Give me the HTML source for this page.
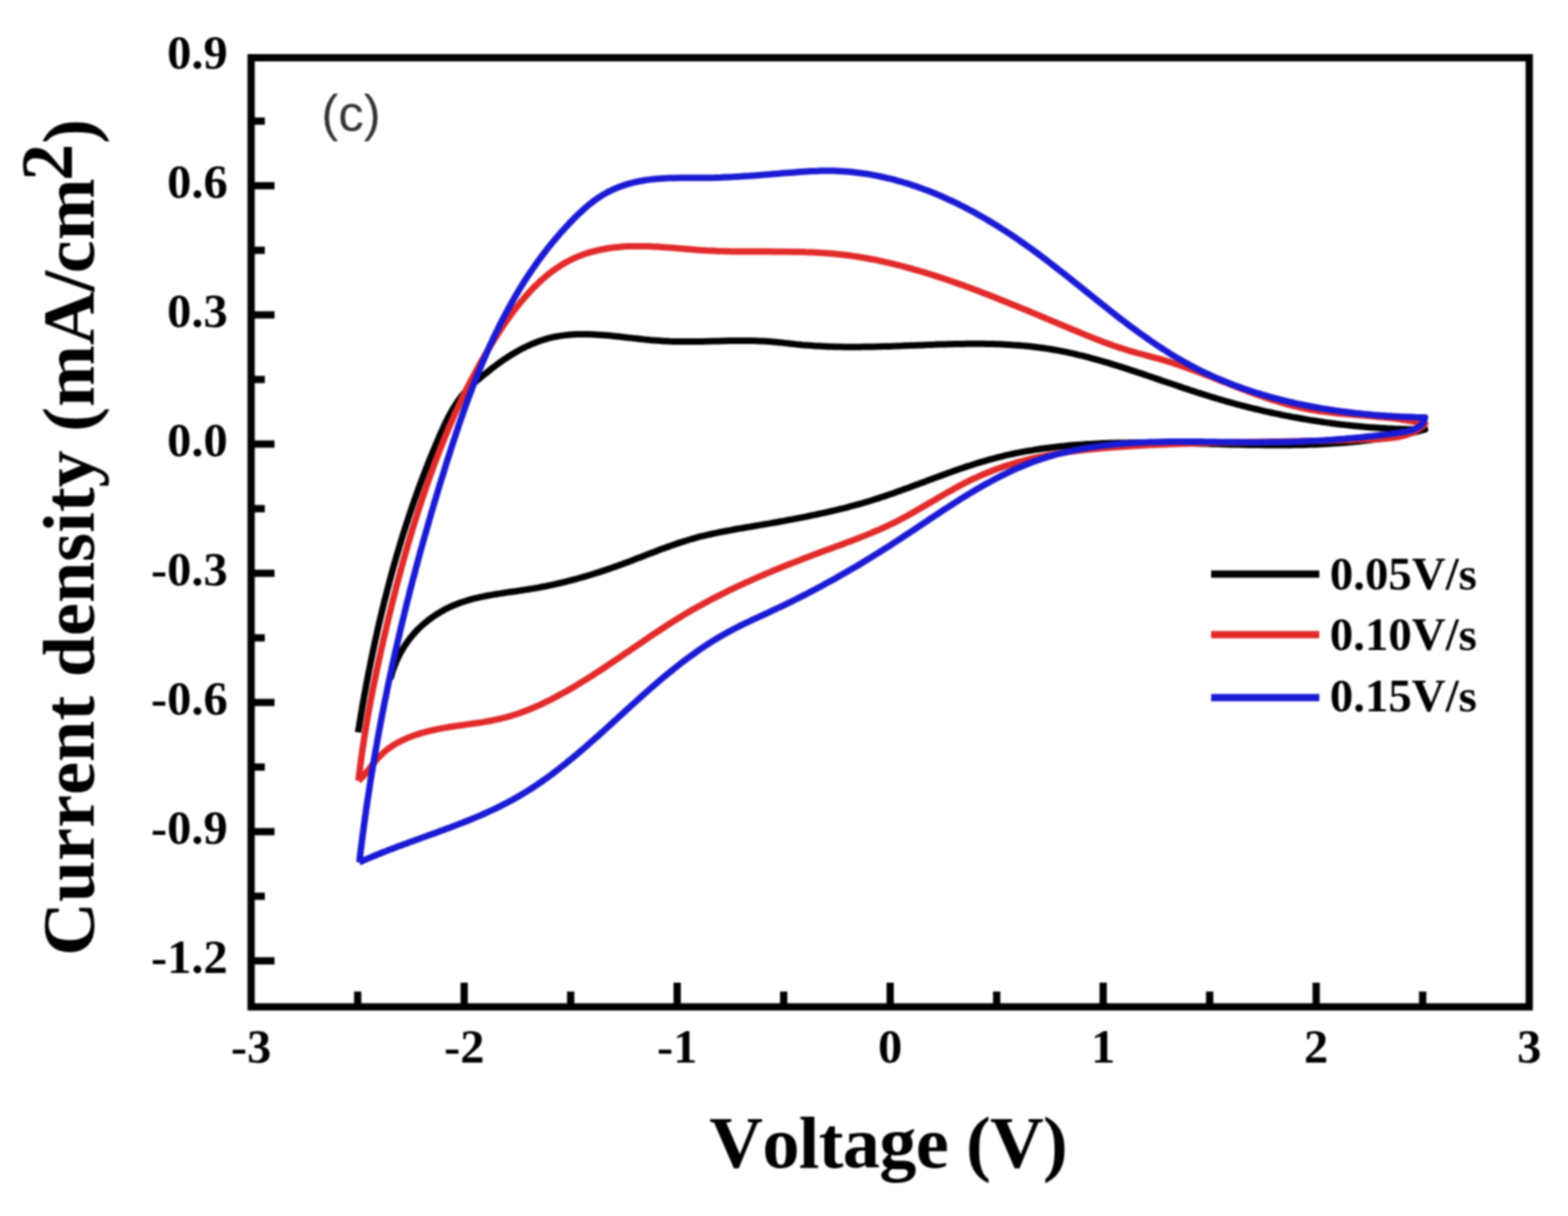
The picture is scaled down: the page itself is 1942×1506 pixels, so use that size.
<!DOCTYPE html>
<html><head><meta charset="utf-8"><title>CV curves</title>
<style>
html,body{margin:0;padding:0;background:#fff;width:1942px;height:1506px;overflow:hidden}
svg{display:block;filter:blur(1.2px)}
text{font-kerning:none}
.serif{font-family:"Liberation Serif","Times New Roman",serif;font-weight:bold;fill:#000}
</style></head><body>
<svg width="1942" height="1506" viewBox="0 0 1942 1506">
<rect x="0" y="0" width="1942" height="1506" fill="#fff"/>
<g fill="none" stroke-width="8" stroke-linejoin="round" stroke-linecap="butt">
<path d="M443.5 907.0 L444.1 903.0 L444.8 899.1 L445.4 895.1 L446.1 891.2 L446.7 887.2 L447.4 883.3 L448.1 879.4 L448.7 875.4 L449.4 871.5 L450.1 867.5 L450.8 863.6 L451.5 859.6 L452.3 855.7 L453.0 851.8 L453.7 847.8 L454.5 843.9 L455.2 840.0 L456.0 836.0 L456.7 832.1 L457.5 828.2 L458.3 824.3 L459.1 820.3 L459.9 816.4 L460.7 812.5 L461.5 808.6 L462.3 804.6 L463.2 800.7 L464.0 796.8 L464.8 792.9 L465.7 789.0 L466.6 785.1 L467.4 781.2 L468.3 777.3 L469.2 773.4 L470.1 769.5 L471.0 765.6 L472.0 761.7 L472.9 757.8 L473.8 753.9 L474.8 750.0 L475.7 746.1 L476.7 742.2 L477.7 738.4 L478.7 734.5 L479.7 730.6 L480.7 726.7 L481.7 722.9 L482.7 719.0 L483.8 715.1 L484.8 711.3 L485.9 707.4 L486.9 703.5 L488.0 699.7 L489.1 695.8 L490.2 692.0 L491.3 688.1 L492.4 684.3 L493.6 680.5 L494.7 676.6 L495.9 672.8 L497.0 669.0 L498.2 665.1 L499.4 661.3 L500.6 657.5 L501.8 653.7 L503.0 649.9 L504.3 646.1 L505.5 642.3 L506.8 638.5 L508.0 634.7 L509.3 630.9 L510.6 627.1 L511.9 623.3 L513.2 619.5 L514.6 615.7 L515.9 612.0 L517.3 608.2 L518.6 604.4 L520.0 600.7 L521.4 596.9 L522.8 593.2 L524.2 589.4 L525.7 585.7 L527.1 582.0 L528.6 578.2 L530.0 574.5 L531.5 570.8 L533.0 567.1 L534.5 563.4 L536.0 559.7 L537.6 556.0 L539.1 552.3 L540.7 548.6 L542.3 544.9 L543.8 541.2 L545.4 537.6 L547.1 533.9 L548.7 530.3 L550.4 526.6 L552.1 523.0 L553.9 519.4 L555.7 515.9 L557.6 512.3 L559.5 508.8 L561.6 505.4 L563.7 502.0 L565.9 498.6 L568.1 495.3 L570.5 492.1 L573.0 489.0 L575.6 485.9 L578.3 482.9 L581.1 480.1 L583.9 477.3 L586.9 474.6 L589.9 472.0 L593.0 469.4 L596.1 466.9 L599.2 464.3 L602.3 461.8 L605.4 459.3 L608.5 456.8 L611.7 454.4 L614.9 452.0 L618.1 449.6 L621.4 447.3 L624.7 445.0 L628.0 442.8 L631.4 440.6 L634.8 438.5 L638.3 436.5 L641.7 434.5 L645.2 432.6 L648.8 430.7 L652.4 429.0 L656.0 427.3 L659.7 425.7 L663.4 424.2 L667.1 422.8 L670.9 421.5 L674.7 420.3 L678.6 419.2 L682.5 418.2 L686.4 417.3 L690.3 416.6 L694.3 415.9 L698.2 415.4 L702.2 414.9 L706.2 414.6 L710.2 414.3 L714.2 414.1 L718.2 414.0 L722.2 414.0 L726.2 414.0 L730.2 414.1 L734.2 414.3 L738.2 414.5 L742.2 414.7 L746.2 415.0 L750.2 415.3 L754.2 415.6 L758.2 416.0 L762.1 416.4 L766.1 416.8 L770.1 417.3 L774.1 417.7 L778.1 418.2 L782.0 418.6 L786.0 419.1 L790.0 419.5 L794.0 419.9 L797.9 420.4 L801.9 420.8 L805.9 421.2 L809.9 421.5 L813.9 421.8 L817.9 422.1 L821.9 422.4 L825.9 422.6 L829.9 422.8 L833.9 422.9 L837.9 423.0 L841.9 423.1 L845.9 423.1 L849.9 423.1 L853.9 423.1 L857.9 423.1 L861.9 423.0 L865.9 423.0 L869.9 422.9 L873.9 422.8 L877.9 422.7 L881.9 422.6 L885.9 422.5 L889.9 422.4 L893.9 422.3 L897.9 422.2 L901.9 422.1 L905.9 422.0 L909.9 421.9 L913.9 421.9 L917.9 421.9 L921.9 421.9 L925.9 421.9 L929.9 422.0 L933.9 422.1 L937.9 422.2 L941.9 422.4 L945.9 422.6 L949.9 422.8 L953.9 423.1 L957.9 423.4 L961.9 423.8 L965.9 424.2 L969.9 424.6 L973.8 425.1 L977.8 425.5 L981.8 425.9 L985.8 426.4 L989.8 426.8 L993.7 427.2 L997.7 427.5 L1001.7 427.8 L1005.7 428.1 L1009.7 428.4 L1013.7 428.6 L1017.7 428.8 L1021.7 429.0 L1025.7 429.2 L1029.7 429.3 L1033.7 429.5 L1037.7 429.5 L1041.7 429.6 L1045.7 429.7 L1049.7 429.7 L1053.7 429.7 L1057.7 429.7 L1061.7 429.7 L1065.7 429.7 L1069.7 429.6 L1073.7 429.6 L1077.7 429.5 L1081.7 429.4 L1085.7 429.3 L1089.7 429.2 L1093.7 429.1 L1097.7 429.0 L1101.7 428.9 L1105.7 428.7 L1109.7 428.6 L1113.7 428.4 L1117.7 428.3 L1121.7 428.1 L1125.7 428.0 L1129.7 427.8 L1133.7 427.7 L1137.7 427.5 L1141.7 427.4 L1145.7 427.2 L1149.7 427.1 L1153.7 426.9 L1157.7 426.8 L1161.7 426.6 L1165.7 426.5 L1169.7 426.4 L1173.7 426.3 L1177.7 426.2 L1181.8 426.1 L1185.8 426.0 L1189.8 425.9 L1193.8 425.9 L1197.8 425.8 L1201.8 425.8 L1205.8 425.8 L1209.8 425.8 L1213.8 425.8 L1217.8 425.8 L1221.8 425.9 L1225.8 426.0 L1229.8 426.1 L1233.8 426.2 L1237.8 426.3 L1241.8 426.5 L1245.8 426.7 L1249.8 426.9 L1253.8 427.2 L1257.8 427.4 L1261.8 427.7 L1265.7 428.1 L1269.7 428.4 L1273.7 428.8 L1277.7 429.2 L1281.7 429.7 L1285.6 430.2 L1289.6 430.7 L1293.6 431.3 L1297.5 431.9 L1301.5 432.5 L1305.4 433.2 L1309.4 433.9 L1313.3 434.6 L1317.2 435.4 L1321.2 436.2 L1325.1 437.1 L1329.0 437.9 L1332.9 438.8 L1336.8 439.8 L1340.7 440.7 L1344.5 441.7 L1348.4 442.7 L1352.3 443.8 L1356.1 444.8 L1360.0 445.9 L1363.8 447.0 L1367.7 448.1 L1371.5 449.2 L1375.4 450.4 L1379.2 451.6 L1383.0 452.7 L1386.8 453.9 L1390.6 455.1 L1394.5 456.4 L1398.3 457.6 L1402.1 458.9 L1405.9 460.1 L1409.7 461.4 L1413.5 462.6 L1417.3 463.9 L1421.1 465.2 L1424.8 466.5 L1428.6 467.8 L1432.4 469.1 L1436.2 470.4 L1440.0 471.7 L1443.8 473.0 L1447.6 474.2 L1451.4 475.5 L1455.2 476.8 L1458.9 478.1 L1462.7 479.4 L1466.5 480.7 L1470.3 481.9 L1474.1 483.2 L1477.9 484.4 L1481.7 485.7 L1485.5 486.9 L1489.4 488.1 L1493.2 489.3 L1497.0 490.5 L1500.8 491.7 L1504.7 492.9 L1508.5 494.0 L1512.3 495.1 L1516.2 496.3 L1520.0 497.4 L1523.9 498.4 L1527.7 499.5 L1531.6 500.6 L1535.5 501.6 L1539.3 502.6 L1543.2 503.6 L1547.1 504.6 L1551.0 505.6 L1554.9 506.5 L1558.8 507.4 L1562.7 508.4 L1566.6 509.3 L1570.5 510.1 L1574.4 511.0 L1578.3 511.9 L1582.2 512.7 L1586.1 513.5 L1590.0 514.3 L1594.0 515.1 L1597.9 515.8 L1601.8 516.6 L1605.8 517.3 L1609.7 518.0 L1613.6 518.7 L1617.6 519.4 L1621.5 520.1 L1625.5 520.7 L1629.4 521.3 L1633.4 521.9 L1637.4 522.5 L1641.3 523.1 L1645.3 523.6 L1649.3 524.2 L1653.2 524.7 L1657.2 525.2 L1661.2 525.7 L1665.1 526.1 L1669.1 526.6 L1673.1 527.0 L1677.1 527.4 L1681.1 527.8 L1685.1 528.2 L1689.0 528.6 L1693.0 528.9 L1697.0 529.2 L1701.0 529.5 L1705.0 529.8 L1709.0 530.1 L1713.0 530.3 L1717.0 530.6 L1721.0 530.8 L1725.0 531.0 L1729.0 531.2 L1733.0 531.3 L1737.0 531.5 L1741.0 531.6 L1745.0 531.7 L1749.0 531.8 L1753.0 531.9 L1757.0 531.9 L1761.0 532.0 L1765.0 532.0 L1761.1 533.0 L1757.2 534.0 L1753.3 534.9 L1749.4 535.8 L1745.5 536.7 L1741.6 537.5 L1737.7 538.3 L1733.8 539.1 L1729.8 539.9 L1725.9 540.6 L1722.0 541.3 L1718.0 541.9 L1714.1 542.6 L1710.1 543.2 L1706.1 543.8 L1702.2 544.3 L1698.2 544.8 L1694.2 545.3 L1690.3 545.8 L1686.3 546.3 L1682.3 546.7 L1678.3 547.1 L1674.3 547.5 L1670.3 547.8 L1666.4 548.2 L1662.4 548.5 L1658.4 548.8 L1654.4 549.1 L1650.4 549.3 L1646.4 549.6 L1642.4 549.8 L1638.4 550.0 L1634.4 550.2 L1630.4 550.4 L1626.4 550.5 L1622.4 550.6 L1618.4 550.8 L1614.4 550.9 L1610.4 551.0 L1606.4 551.0 L1602.4 551.1 L1598.4 551.2 L1594.4 551.2 L1590.4 551.2 L1586.4 551.2 L1582.4 551.2 L1578.3 551.2 L1574.3 551.2 L1570.3 551.2 L1566.3 551.2 L1562.3 551.1 L1558.3 551.1 L1554.3 551.0 L1550.3 551.0 L1546.3 550.9 L1542.3 550.8 L1538.3 550.7 L1534.3 550.6 L1530.3 550.6 L1526.3 550.5 L1522.3 550.4 L1518.3 550.3 L1514.3 550.2 L1510.3 550.1 L1506.3 550.0 L1502.3 549.9 L1498.3 549.7 L1494.3 549.6 L1490.3 549.5 L1486.3 549.4 L1482.3 549.3 L1478.3 549.2 L1474.3 549.1 L1470.3 549.0 L1466.3 548.9 L1462.3 548.8 L1458.3 548.8 L1454.3 548.7 L1450.3 548.6 L1446.3 548.5 L1442.3 548.5 L1438.2 548.4 L1434.2 548.4 L1430.2 548.3 L1426.2 548.3 L1422.2 548.3 L1418.2 548.2 L1414.2 548.2 L1410.2 548.2 L1406.2 548.3 L1402.2 548.3 L1398.2 548.3 L1394.2 548.4 L1390.2 548.4 L1386.2 548.5 L1382.2 548.6 L1378.2 548.7 L1374.2 548.8 L1370.2 549.0 L1366.2 549.1 L1362.2 549.3 L1358.2 549.5 L1354.2 549.7 L1350.2 549.9 L1346.2 550.1 L1342.2 550.4 L1338.2 550.7 L1334.2 551.0 L1330.2 551.3 L1326.2 551.6 L1322.2 552.0 L1318.3 552.4 L1314.3 552.8 L1310.3 553.2 L1306.3 553.7 L1302.3 554.2 L1298.4 554.7 L1294.4 555.2 L1290.4 555.7 L1286.5 556.3 L1282.5 556.9 L1278.6 557.6 L1274.6 558.2 L1270.7 558.9 L1266.7 559.7 L1262.8 560.4 L1258.9 561.2 L1255.0 562.0 L1251.0 562.9 L1247.1 563.7 L1243.2 564.6 L1239.4 565.6 L1235.5 566.5 L1231.6 567.6 L1227.7 568.6 L1223.9 569.7 L1220.0 570.8 L1216.2 571.9 L1212.3 573.1 L1208.5 574.2 L1204.7 575.5 L1200.9 576.7 L1197.1 577.9 L1193.3 579.2 L1189.5 580.5 L1185.7 581.8 L1181.9 583.1 L1178.2 584.5 L1174.4 585.8 L1170.6 587.2 L1166.9 588.6 L1163.1 589.9 L1159.4 591.3 L1155.6 592.7 L1151.9 594.1 L1148.1 595.5 L1144.4 596.9 L1140.6 598.3 L1136.9 599.7 L1133.1 601.1 L1129.3 602.5 L1125.6 603.9 L1121.8 605.3 L1118.1 606.6 L1114.3 608.0 L1110.5 609.3 L1106.8 610.7 L1103.0 612.0 L1099.2 613.3 L1095.4 614.6 L1091.6 615.8 L1087.8 617.1 L1084.0 618.3 L1080.2 619.5 L1076.3 620.7 L1072.5 621.8 L1068.7 623.0 L1064.8 624.1 L1061.0 625.2 L1057.1 626.2 L1053.2 627.2 L1049.4 628.3 L1045.5 629.3 L1041.6 630.2 L1037.7 631.2 L1033.8 632.1 L1029.9 633.0 L1026.0 633.9 L1022.1 634.8 L1018.2 635.7 L1014.3 636.5 L1010.4 637.4 L1006.4 638.2 L1002.5 639.0 L998.6 639.8 L994.7 640.6 L990.7 641.4 L986.8 642.1 L982.9 642.9 L978.9 643.6 L975.0 644.3 L971.1 645.1 L967.1 645.8 L963.2 646.5 L959.3 647.2 L955.3 647.9 L951.4 648.6 L947.4 649.2 L943.5 649.9 L939.5 650.6 L935.6 651.3 L931.6 652.0 L927.7 652.6 L923.7 653.3 L919.8 654.0 L915.8 654.6 L911.9 655.3 L908.0 656.0 L904.0 656.8 L900.1 657.5 L896.2 658.2 L892.2 659.0 L888.3 659.8 L884.4 660.6 L880.5 661.5 L876.6 662.4 L872.7 663.3 L868.8 664.2 L864.9 665.2 L861.0 666.3 L857.2 667.4 L853.3 668.5 L849.5 669.7 L845.7 670.9 L841.9 672.1 L838.1 673.4 L834.3 674.7 L830.5 676.0 L826.8 677.4 L823.0 678.7 L819.2 680.1 L815.5 681.5 L811.8 683.0 L808.0 684.4 L804.3 685.8 L800.5 687.3 L796.8 688.7 L793.1 690.2 L789.3 691.6 L785.6 693.0 L781.9 694.5 L778.1 695.9 L774.4 697.3 L770.6 698.7 L766.9 700.0 L763.1 701.4 L759.3 702.7 L755.5 704.1 L751.7 705.4 L747.9 706.6 L744.1 707.9 L740.3 709.1 L736.5 710.3 L732.7 711.5 L728.9 712.7 L725.0 713.8 L721.2 714.9 L717.3 716.0 L713.5 717.1 L709.6 718.1 L705.7 719.1 L701.8 720.1 L698.0 721.1 L694.1 722.0 L690.2 722.9 L686.3 723.8 L682.4 724.7 L678.4 725.5 L674.5 726.3 L670.6 727.0 L666.6 727.8 L662.7 728.5 L658.8 729.1 L654.8 729.8 L650.8 730.4 L646.9 731.0 L642.9 731.6 L639.0 732.2 L635.0 732.7 L631.0 733.3 L627.1 733.9 L623.1 734.5 L619.2 735.1 L615.2 735.7 L611.3 736.4 L607.3 737.1 L603.4 737.8 L599.4 738.6 L595.5 739.4 L591.6 740.3 L587.7 741.2 L583.9 742.2 L580.0 743.3 L576.2 744.5 L572.4 745.7 L568.6 747.1 L564.9 748.5 L561.2 750.0 L557.5 751.7 L553.9 753.4 L550.3 755.2 L546.8 757.2 L543.4 759.2 L540.0 761.3 L536.7 763.5 L533.4 765.9 L530.2 768.3 L527.1 770.8 L524.0 773.4 L521.1 776.1 L518.2 778.9 L515.4 781.7 L512.7 784.7 L510.1 787.7 L507.6 790.9 L505.2 794.1 L502.9 797.3 L500.7 800.7 L498.6 804.1 L496.6 807.5 L494.7 811.1 L492.9 814.7 L491.2 818.3 L489.7 822.0 L488.2 825.7 L486.9 829.5 L485.6 833.3 L484.5 837.1 L483.5 841.0" stroke="#000"/>
<path d="M444.0 967.0 L444.4 963.0 L444.9 959.0 L445.4 955.1 L445.9 951.1 L446.4 947.1 L446.9 943.2 L447.4 939.2 L448.0 935.2 L448.5 931.3 L449.1 927.3 L449.7 923.4 L450.3 919.4 L450.9 915.4 L451.5 911.5 L452.1 907.5 L452.8 903.6 L453.4 899.6 L454.1 895.7 L454.7 891.7 L455.4 887.8 L456.1 883.9 L456.8 879.9 L457.6 876.0 L458.3 872.1 L459.0 868.1 L459.8 864.2 L460.5 860.3 L461.3 856.3 L462.1 852.4 L462.9 848.5 L463.7 844.6 L464.5 840.6 L465.3 836.7 L466.1 832.8 L466.9 828.9 L467.8 825.0 L468.6 821.1 L469.4 817.2 L470.3 813.3 L471.2 809.3 L472.0 805.4 L472.9 801.5 L473.8 797.6 L474.7 793.7 L475.6 789.8 L476.5 785.9 L477.4 782.0 L478.3 778.1 L479.2 774.2 L480.1 770.3 L481.0 766.5 L482.0 762.6 L482.9 758.7 L483.9 754.8 L484.8 750.9 L485.8 747.0 L486.8 743.1 L487.7 739.3 L488.7 735.4 L489.7 731.5 L490.7 727.6 L491.7 723.8 L492.7 719.9 L493.7 716.0 L494.8 712.1 L495.8 708.3 L496.9 704.4 L497.9 700.6 L499.0 696.7 L500.0 692.8 L501.1 689.0 L502.2 685.1 L503.3 681.3 L504.4 677.4 L505.5 673.6 L506.7 669.8 L507.8 665.9 L508.9 662.1 L510.1 658.3 L511.2 654.4 L512.4 650.6 L513.6 646.8 L514.8 643.0 L516.0 639.1 L517.2 635.3 L518.4 631.5 L519.6 627.7 L520.9 623.9 L522.1 620.1 L523.4 616.3 L524.7 612.5 L526.0 608.7 L527.3 604.9 L528.6 601.2 L529.9 597.4 L531.2 593.6 L532.5 589.8 L533.9 586.1 L535.3 582.3 L536.6 578.6 L538.0 574.8 L539.4 571.1 L540.8 567.3 L542.3 563.6 L543.7 559.8 L545.2 556.1 L546.6 552.4 L548.1 548.7 L549.6 545.0 L551.1 541.3 L552.6 537.6 L554.2 533.9 L555.7 530.2 L557.3 526.5 L558.9 522.8 L560.5 519.2 L562.1 515.5 L563.8 511.8 L565.4 508.2 L567.1 504.6 L568.8 500.9 L570.5 497.3 L572.2 493.7 L573.9 490.1 L575.7 486.5 L577.4 482.9 L579.2 479.3 L581.0 475.8 L582.9 472.2 L584.7 468.6 L586.6 465.1 L588.5 461.6 L590.4 458.1 L592.3 454.5 L594.2 451.0 L596.2 447.6 L598.2 444.1 L600.2 440.6 L602.2 437.2 L604.2 433.7 L606.3 430.3 L608.3 426.8 L610.4 423.4 L612.5 420.0 L614.7 416.7 L616.8 413.3 L619.0 409.9 L621.2 406.6 L623.4 403.2 L625.7 399.9 L627.9 396.6 L630.2 393.4 L632.6 390.1 L635.0 386.9 L637.4 383.7 L639.8 380.5 L642.3 377.4 L644.8 374.3 L647.4 371.2 L649.9 368.2 L652.6 365.2 L655.3 362.2 L658.0 359.3 L660.8 356.4 L663.6 353.6 L666.5 350.8 L669.4 348.0 L672.4 345.4 L675.4 342.8 L678.5 340.2 L681.7 337.7 L684.9 335.3 L688.1 333.0 L691.4 330.8 L694.8 328.6 L698.2 326.5 L701.7 324.5 L705.2 322.7 L708.8 320.9 L712.4 319.2 L716.1 317.6 L719.8 316.2 L723.6 314.8 L727.4 313.5 L731.2 312.4 L735.1 311.3 L739.0 310.3 L742.9 309.5 L746.8 308.7 L750.7 308.0 L754.7 307.3 L758.6 306.8 L762.6 306.3 L766.6 305.9 L770.6 305.6 L774.6 305.3 L778.6 305.1 L782.6 305.0 L786.6 304.9 L790.6 304.9 L794.6 304.9 L798.6 305.0 L802.6 305.1 L806.6 305.2 L810.6 305.4 L814.6 305.6 L818.6 305.9 L822.6 306.2 L826.5 306.4 L830.5 306.8 L834.5 307.1 L838.5 307.4 L842.5 307.7 L846.5 308.1 L850.5 308.4 L854.5 308.7 L858.4 309.1 L862.4 309.4 L866.4 309.7 L870.4 309.9 L874.4 310.2 L878.4 310.4 L882.4 310.6 L886.4 310.8 L890.4 310.9 L894.4 311.1 L898.4 311.2 L902.4 311.3 L906.4 311.4 L910.4 311.4 L914.4 311.5 L918.4 311.5 L922.4 311.6 L926.4 311.6 L930.4 311.6 L934.4 311.6 L938.4 311.6 L942.4 311.6 L946.4 311.6 L950.4 311.6 L954.4 311.6 L958.4 311.7 L962.4 311.7 L966.4 311.7 L970.4 311.7 L974.4 311.8 L978.4 311.8 L982.4 311.9 L986.4 311.9 L990.4 312.0 L994.4 312.1 L998.4 312.3 L1002.4 312.4 L1006.4 312.6 L1010.4 312.8 L1014.4 313.0 L1018.4 313.2 L1022.4 313.5 L1026.4 313.8 L1030.4 314.1 L1034.4 314.5 L1038.3 314.9 L1042.3 315.3 L1046.3 315.8 L1050.3 316.2 L1054.2 316.8 L1058.2 317.4 L1062.2 318.0 L1066.1 318.6 L1070.0 319.3 L1074.0 320.0 L1077.9 320.7 L1081.9 321.4 L1085.8 322.2 L1089.7 323.1 L1093.6 323.9 L1097.5 324.8 L1101.4 325.7 L1105.3 326.6 L1109.2 327.6 L1113.1 328.5 L1116.9 329.5 L1120.8 330.6 L1124.7 331.6 L1128.5 332.7 L1132.4 333.8 L1136.2 334.9 L1140.1 336.0 L1143.9 337.1 L1147.7 338.3 L1151.5 339.5 L1155.4 340.7 L1159.2 341.9 L1163.0 343.2 L1166.8 344.4 L1170.6 345.7 L1174.4 347.0 L1178.1 348.3 L1181.9 349.6 L1185.7 350.9 L1189.5 352.2 L1193.2 353.6 L1197.0 355.0 L1200.8 356.3 L1204.5 357.7 L1208.3 359.1 L1212.0 360.5 L1215.7 362.0 L1219.5 363.4 L1223.2 364.8 L1226.9 366.3 L1230.7 367.8 L1234.4 369.2 L1238.1 370.7 L1241.8 372.2 L1245.5 373.7 L1249.2 375.2 L1252.9 376.7 L1256.7 378.2 L1260.4 379.7 L1264.1 381.2 L1267.8 382.8 L1271.5 384.3 L1275.1 385.8 L1278.8 387.4 L1282.5 388.9 L1286.2 390.4 L1289.9 392.0 L1293.6 393.5 L1297.3 395.1 L1301.0 396.6 L1304.7 398.2 L1308.4 399.7 L1312.1 401.3 L1315.7 402.8 L1319.4 404.4 L1323.1 405.9 L1326.8 407.5 L1330.5 409.0 L1334.2 410.5 L1337.9 412.1 L1341.6 413.6 L1345.3 415.1 L1349.0 416.6 L1352.7 418.1 L1356.5 419.6 L1360.2 421.0 L1363.9 422.5 L1367.7 423.9 L1371.4 425.3 L1375.2 426.6 L1378.9 428.0 L1382.7 429.3 L1386.5 430.6 L1390.3 431.8 L1394.1 433.0 L1398.0 434.2 L1401.8 435.3 L1405.6 436.4 L1409.5 437.5 L1413.4 438.5 L1417.2 439.5 L1421.1 440.6 L1425.0 441.6 L1428.8 442.6 L1432.7 443.7 L1436.6 444.7 L1440.4 445.8 L1444.2 447.0 L1448.1 448.1 L1451.9 449.3 L1455.7 450.6 L1459.5 451.8 L1463.3 453.1 L1467.0 454.5 L1470.8 455.8 L1474.6 457.2 L1478.3 458.5 L1482.1 459.9 L1485.8 461.3 L1489.6 462.8 L1493.3 464.2 L1497.0 465.6 L1500.8 467.1 L1504.5 468.6 L1508.2 470.0 L1511.9 471.5 L1515.7 472.9 L1519.4 474.4 L1523.1 475.9 L1526.8 477.3 L1530.6 478.8 L1534.3 480.2 L1538.0 481.7 L1541.8 483.1 L1545.5 484.5 L1549.3 485.9 L1553.0 487.3 L1556.8 488.6 L1560.6 490.0 L1564.3 491.3 L1568.1 492.6 L1571.9 493.9 L1575.7 495.1 L1579.5 496.3 L1583.4 497.5 L1587.2 498.6 L1591.0 499.7 L1594.9 500.8 L1598.8 501.8 L1602.6 502.8 L1606.5 503.7 L1610.4 504.6 L1614.3 505.5 L1618.3 506.3 L1622.2 507.0 L1626.1 507.7 L1630.1 508.4 L1634.0 509.0 L1638.0 509.5 L1642.0 510.1 L1645.9 510.6 L1649.9 511.0 L1653.9 511.5 L1657.9 511.9 L1661.9 512.3 L1665.8 512.6 L1669.8 513.0 L1673.8 513.3 L1677.8 513.7 L1681.8 514.0 L1685.8 514.3 L1689.8 514.6 L1693.8 515.0 L1697.7 515.3 L1701.7 515.7 L1705.7 516.0 L1709.7 516.4 L1713.7 516.8 L1717.7 517.2 L1721.6 517.6 L1725.6 518.1 L1729.6 518.6 L1733.5 519.1 L1737.5 519.7 L1741.5 520.3 L1745.4 521.0 L1749.4 521.7 L1753.3 522.4 L1757.2 523.2 L1761.1 524.1 L1765.0 525.0 L1762.1 527.7 L1759.0 530.2 L1755.6 532.5 L1752.2 534.5 L1748.6 536.2 L1744.8 537.6 L1741.0 538.9 L1737.2 539.9 L1733.3 540.8 L1729.3 541.5 L1725.4 542.1 L1721.4 542.6 L1717.4 542.9 L1713.4 543.2 L1709.4 543.5 L1705.4 543.7 L1701.4 543.9 L1697.4 544.0 L1693.5 544.2 L1689.5 544.3 L1685.5 544.5 L1681.5 544.6 L1677.5 544.8 L1673.5 544.9 L1669.5 545.0 L1665.5 545.1 L1661.5 545.3 L1657.5 545.4 L1653.5 545.5 L1649.5 545.6 L1645.5 545.7 L1641.5 545.8 L1637.5 545.9 L1633.5 546.0 L1629.5 546.1 L1625.5 546.2 L1621.5 546.2 L1617.5 546.3 L1613.5 546.4 L1609.5 546.5 L1605.5 546.6 L1601.5 546.6 L1597.5 546.7 L1593.5 546.8 L1589.5 546.8 L1585.5 546.9 L1581.5 547.0 L1577.5 547.1 L1573.5 547.1 L1569.5 547.2 L1565.5 547.3 L1561.5 547.3 L1557.5 547.4 L1553.5 547.5 L1549.5 547.5 L1545.5 547.6 L1541.5 547.7 L1537.5 547.7 L1533.5 547.8 L1529.5 547.9 L1525.5 548.0 L1521.5 548.1 L1517.5 548.1 L1513.5 548.2 L1509.5 548.3 L1505.5 548.4 L1501.5 548.5 L1497.5 548.6 L1493.5 548.7 L1489.5 548.8 L1485.5 548.9 L1481.5 549.0 L1477.5 549.1 L1473.5 549.3 L1469.5 549.4 L1465.5 549.5 L1461.5 549.7 L1457.5 549.8 L1453.5 549.9 L1449.5 550.1 L1445.5 550.3 L1441.5 550.4 L1437.5 550.6 L1433.5 550.8 L1429.5 551.0 L1425.5 551.1 L1421.5 551.3 L1417.5 551.5 L1413.5 551.8 L1409.5 552.0 L1405.5 552.2 L1401.5 552.4 L1397.5 552.7 L1393.5 552.9 L1389.5 553.2 L1385.5 553.5 L1381.6 553.7 L1377.6 554.0 L1373.6 554.3 L1369.6 554.7 L1365.6 555.0 L1361.6 555.4 L1357.6 555.7 L1353.6 556.1 L1349.7 556.5 L1345.7 556.9 L1341.7 557.4 L1337.7 557.8 L1333.8 558.3 L1329.8 558.8 L1325.8 559.4 L1321.9 559.9 L1317.9 560.5 L1314.0 561.1 L1310.0 561.7 L1306.1 562.4 L1302.1 563.1 L1298.2 563.8 L1294.3 564.6 L1290.3 565.4 L1286.4 566.2 L1282.5 567.0 L1278.6 567.9 L1274.7 568.8 L1270.8 569.8 L1267.0 570.8 L1263.1 571.8 L1259.2 572.9 L1255.4 574.0 L1251.6 575.2 L1247.7 576.4 L1243.9 577.6 L1240.2 578.9 L1236.4 580.2 L1232.6 581.6 L1228.9 583.0 L1225.2 584.5 L1221.5 586.0 L1217.8 587.5 L1214.1 589.1 L1210.4 590.8 L1206.8 592.4 L1203.2 594.2 L1199.6 595.9 L1196.0 597.7 L1192.5 599.5 L1188.9 601.4 L1185.4 603.3 L1181.9 605.2 L1178.4 607.2 L1174.9 609.1 L1171.4 611.1 L1168.0 613.1 L1164.5 615.1 L1161.1 617.2 L1157.6 619.2 L1154.2 621.2 L1150.7 623.3 L1147.3 625.3 L1143.8 627.3 L1140.4 629.3 L1136.9 631.3 L1133.4 633.3 L1130.0 635.3 L1126.5 637.3 L1123.0 639.2 L1119.5 641.1 L1115.9 643.0 L1112.4 644.8 L1108.8 646.6 L1105.2 648.4 L1101.6 650.1 L1098.0 651.8 L1094.4 653.5 L1090.7 655.1 L1087.0 656.8 L1083.4 658.3 L1079.7 659.9 L1076.0 661.4 L1072.3 662.9 L1068.5 664.4 L1064.8 665.9 L1061.1 667.3 L1057.4 668.7 L1053.6 670.2 L1049.9 671.6 L1046.1 673.0 L1042.4 674.4 L1038.6 675.7 L1034.9 677.1 L1031.1 678.5 L1027.4 679.9 L1023.6 681.3 L1019.8 682.6 L1016.1 684.0 L1012.3 685.4 L1008.6 686.8 L1004.9 688.2 L1001.1 689.7 L997.4 691.1 L993.6 692.5 L989.9 694.0 L986.2 695.4 L982.4 696.9 L978.7 698.3 L975.0 699.8 L971.3 701.3 L967.6 702.8 L963.9 704.3 L960.2 705.8 L956.5 707.3 L952.8 708.9 L949.1 710.4 L945.4 712.0 L941.7 713.6 L938.1 715.2 L934.4 716.8 L930.8 718.4 L927.1 720.1 L923.5 721.7 L919.8 723.4 L916.2 725.1 L912.6 726.7 L909.0 728.5 L905.3 730.2 L901.7 731.9 L898.2 733.7 L894.6 735.5 L891.0 737.3 L887.4 739.1 L883.9 740.9 L880.3 742.8 L876.8 744.7 L873.3 746.6 L869.8 748.5 L866.3 750.4 L862.8 752.4 L859.3 754.3 L855.8 756.3 L852.4 758.3 L848.9 760.4 L845.5 762.4 L842.1 764.5 L838.7 766.6 L835.3 768.7 L831.9 770.9 L828.5 773.0 L825.1 775.2 L821.8 777.4 L818.4 779.6 L815.1 781.8 L811.8 784.0 L808.4 786.2 L805.1 788.4 L801.8 790.7 L798.5 792.9 L795.2 795.2 L791.9 797.4 L788.6 799.7 L785.3 801.9 L782.0 804.2 L778.7 806.5 L775.4 808.7 L772.1 811.0 L768.8 813.2 L765.5 815.5 L762.1 817.7 L758.8 820.0 L755.5 822.2 L752.2 824.4 L748.9 826.6 L745.5 828.9 L742.2 831.1 L738.8 833.2 L735.5 835.4 L732.1 837.6 L728.7 839.7 L725.3 841.8 L721.9 843.9 L718.5 846.0 L715.1 848.1 L711.7 850.2 L708.2 852.2 L704.7 854.2 L701.3 856.2 L697.8 858.1 L694.3 860.0 L690.7 861.9 L687.2 863.8 L683.7 865.6 L680.1 867.5 L676.5 869.2 L672.9 871.0 L669.3 872.6 L665.6 874.3 L662.0 875.9 L658.3 877.5 L654.6 879.0 L650.8 880.4 L647.1 881.8 L643.3 883.2 L639.5 884.5 L635.7 885.7 L631.9 886.9 L628.1 888.0 L624.2 889.0 L620.3 890.0 L616.4 890.9 L612.5 891.7 L608.6 892.5 L604.6 893.2 L600.7 893.9 L596.8 894.6 L592.8 895.2 L588.8 895.8 L584.9 896.3 L580.9 896.9 L577.0 897.4 L573.0 898.0 L569.0 898.5 L565.1 899.1 L561.1 899.7 L557.2 900.3 L553.2 901.0 L549.3 901.6 L545.3 902.4 L541.4 903.1 L537.5 904.0 L533.6 904.8 L529.7 905.8 L525.8 906.8 L522.0 907.9 L518.2 909.1 L514.4 910.3 L510.6 911.7 L506.9 913.1 L503.2 914.7 L499.5 916.3 L495.9 918.1 L492.4 919.9 L488.9 921.9 L485.5 924.1 L482.2 926.3 L479.0 928.7 L476.0 931.3 L473.0 934.0 L470.2 936.8 L467.5 939.7 L464.9 942.8 L462.3 945.9 L459.8 949.0 L457.4 952.1 L454.9 955.3 L452.3 958.3 L449.7 961.4 L446.9 964.2 L444.0 967.0" stroke="#e22a2a"/>
<path d="M445.0 1068.0 L445.5 1064.0 L445.9 1060.1 L446.4 1056.1 L446.9 1052.1 L447.4 1048.1 L447.9 1044.2 L448.4 1040.2 L448.9 1036.2 L449.4 1032.3 L450.0 1028.3 L450.5 1024.3 L451.0 1020.4 L451.6 1016.4 L452.1 1012.5 L452.7 1008.5 L453.2 1004.5 L453.8 1000.6 L454.4 996.6 L455.0 992.7 L455.6 988.7 L456.2 984.8 L456.8 980.8 L457.4 976.8 L458.0 972.9 L458.6 968.9 L459.2 965.0 L459.9 961.0 L460.5 957.1 L461.2 953.1 L461.8 949.2 L462.5 945.3 L463.1 941.3 L463.8 937.4 L464.5 933.4 L465.2 929.5 L465.9 925.5 L466.6 921.6 L467.3 917.7 L468.0 913.7 L468.7 909.8 L469.4 905.9 L470.2 901.9 L470.9 898.0 L471.6 894.1 L472.4 890.1 L473.1 886.2 L473.9 882.3 L474.7 878.4 L475.4 874.4 L476.2 870.5 L477.0 866.6 L477.8 862.7 L478.6 858.7 L479.4 854.8 L480.2 850.9 L481.0 847.0 L481.8 843.1 L482.7 839.2 L483.5 835.2 L484.4 831.3 L485.2 827.4 L486.0 823.5 L486.9 819.6 L487.8 815.7 L488.6 811.8 L489.5 807.9 L490.4 804.0 L491.3 800.1 L492.2 796.2 L493.1 792.3 L494.0 788.4 L494.9 784.5 L495.8 780.6 L496.7 776.7 L497.7 772.8 L498.6 768.9 L499.5 765.1 L500.5 761.2 L501.4 757.3 L502.4 753.4 L503.3 749.5 L504.3 745.6 L505.3 741.8 L506.3 737.9 L507.2 734.0 L508.2 730.1 L509.2 726.2 L510.2 722.4 L511.2 718.5 L512.3 714.6 L513.3 710.8 L514.3 706.9 L515.3 703.0 L516.4 699.2 L517.4 695.3 L518.4 691.4 L519.5 687.6 L520.5 683.7 L521.6 679.9 L522.7 676.0 L523.7 672.2 L524.8 668.3 L525.9 664.5 L527.0 660.6 L528.1 656.8 L529.2 652.9 L530.3 649.1 L531.4 645.2 L532.5 641.4 L533.6 637.5 L534.7 633.7 L535.9 629.9 L537.0 626.0 L538.1 622.2 L539.3 618.3 L540.4 614.5 L541.6 610.7 L542.7 606.9 L543.9 603.0 L545.0 599.2 L546.2 595.4 L547.4 591.6 L548.6 587.7 L549.8 583.9 L550.9 580.1 L552.1 576.3 L553.3 572.5 L554.5 568.6 L555.8 564.8 L557.0 561.0 L558.2 557.2 L559.4 553.4 L560.7 549.6 L561.9 545.8 L563.2 542.0 L564.4 538.2 L565.7 534.4 L567.0 530.6 L568.2 526.8 L569.5 523.0 L570.8 519.3 L572.2 515.5 L573.5 511.7 L574.8 507.9 L576.2 504.2 L577.5 500.4 L578.9 496.7 L580.3 492.9 L581.7 489.2 L583.1 485.4 L584.5 481.7 L585.9 477.9 L587.4 474.2 L588.8 470.5 L590.3 466.8 L591.8 463.1 L593.3 459.3 L594.8 455.6 L596.4 452.0 L597.9 448.3 L599.5 444.6 L601.1 440.9 L602.7 437.2 L604.3 433.6 L605.9 429.9 L607.6 426.3 L609.3 422.7 L611.0 419.0 L612.7 415.4 L614.4 411.8 L616.2 408.2 L617.9 404.6 L619.7 401.1 L621.5 397.5 L623.4 393.9 L625.2 390.4 L627.1 386.9 L629.0 383.3 L630.9 379.8 L632.9 376.3 L634.8 372.9 L636.8 369.4 L638.8 365.9 L640.9 362.5 L642.9 359.0 L645.0 355.6 L647.1 352.2 L649.2 348.9 L651.4 345.5 L653.6 342.1 L655.8 338.8 L658.0 335.5 L660.3 332.2 L662.6 328.9 L664.9 325.6 L667.2 322.4 L669.6 319.2 L672.0 315.9 L674.4 312.8 L676.8 309.6 L679.3 306.4 L681.8 303.3 L684.3 300.2 L686.9 297.1 L689.5 294.1 L692.1 291.0 L694.7 288.0 L697.4 285.1 L700.0 282.1 L702.8 279.2 L705.5 276.2 L708.3 273.4 L711.1 270.5 L713.9 267.7 L716.8 264.9 L719.7 262.2 L722.7 259.5 L725.7 256.8 L728.7 254.2 L731.8 251.7 L735.0 249.3 L738.2 246.9 L741.5 244.7 L744.9 242.5 L748.3 240.4 L751.8 238.4 L755.3 236.6 L758.9 234.9 L762.6 233.3 L766.3 231.8 L770.1 230.4 L773.9 229.1 L777.7 227.9 L781.5 226.8 L785.4 225.9 L789.3 225.0 L793.2 224.2 L797.2 223.5 L801.1 222.9 L805.1 222.4 L809.1 221.9 L813.0 221.5 L817.0 221.2 L821.0 220.9 L825.0 220.7 L829.0 220.6 L833.0 220.5 L837.0 220.4 L841.0 220.3 L845.0 220.3 L849.0 220.3 L853.0 220.3 L857.0 220.3 L861.0 220.3 L865.0 220.3 L869.0 220.3 L873.0 220.3 L877.0 220.2 L881.0 220.2 L885.0 220.1 L889.0 219.9 L893.0 219.8 L897.0 219.6 L901.0 219.5 L905.0 219.3 L909.0 219.1 L913.0 218.8 L917.0 218.6 L921.0 218.3 L925.0 218.0 L928.9 217.8 L932.9 217.5 L936.9 217.2 L940.9 216.9 L944.9 216.6 L948.9 216.2 L952.9 215.9 L956.9 215.6 L960.9 215.3 L964.8 215.0 L968.8 214.6 L972.8 214.3 L976.8 214.0 L980.8 213.7 L984.8 213.4 L988.8 213.1 L992.8 212.8 L996.7 212.5 L1000.7 212.3 L1004.7 212.1 L1008.7 211.9 L1012.7 211.8 L1016.7 211.6 L1020.7 211.6 L1024.7 211.5 L1028.7 211.6 L1032.7 211.6 L1036.7 211.8 L1040.7 212.0 L1044.7 212.2 L1048.7 212.5 L1052.7 212.8 L1056.7 213.2 L1060.6 213.7 L1064.6 214.2 L1068.6 214.7 L1072.5 215.3 L1076.5 215.9 L1080.4 216.6 L1084.4 217.4 L1088.3 218.1 L1092.2 219.0 L1096.1 219.8 L1100.0 220.8 L1103.9 221.7 L1107.7 222.7 L1111.6 223.8 L1115.5 224.8 L1119.3 226.0 L1123.1 227.1 L1126.9 228.3 L1130.7 229.6 L1134.5 230.8 L1138.3 232.2 L1142.1 233.5 L1145.8 234.9 L1149.6 236.3 L1153.3 237.8 L1157.0 239.3 L1160.7 240.8 L1164.4 242.4 L1168.0 244.0 L1171.7 245.6 L1175.3 247.3 L1179.0 249.0 L1182.6 250.7 L1186.2 252.4 L1189.7 254.2 L1193.3 256.0 L1196.9 257.9 L1200.4 259.7 L1203.9 261.6 L1207.5 263.5 L1210.9 265.5 L1214.4 267.4 L1217.9 269.4 L1221.4 271.4 L1224.8 273.5 L1228.2 275.5 L1231.6 277.6 L1235.0 279.7 L1238.4 281.8 L1241.8 284.0 L1245.2 286.2 L1248.5 288.3 L1251.9 290.5 L1255.2 292.8 L1258.5 295.0 L1261.8 297.3 L1265.1 299.6 L1268.4 301.9 L1271.6 304.2 L1274.9 306.5 L1278.1 308.8 L1281.3 311.2 L1284.6 313.6 L1287.8 316.0 L1291.0 318.4 L1294.2 320.8 L1297.3 323.2 L1300.5 325.6 L1303.7 328.1 L1306.8 330.5 L1310.0 333.0 L1313.1 335.5 L1316.3 337.9 L1319.4 340.4 L1322.6 342.9 L1325.7 345.4 L1328.8 347.9 L1331.9 350.4 L1335.1 352.9 L1338.2 355.4 L1341.3 357.9 L1344.4 360.4 L1347.5 362.9 L1350.6 365.4 L1353.8 367.9 L1356.9 370.4 L1360.0 372.9 L1363.1 375.4 L1366.3 377.9 L1369.4 380.4 L1372.5 382.9 L1375.7 385.4 L1378.8 387.9 L1382.0 390.3 L1385.1 392.8 L1388.3 395.2 L1391.5 397.6 L1394.7 400.1 L1397.8 402.5 L1401.0 404.9 L1404.3 407.3 L1407.5 409.6 L1410.7 412.0 L1414.0 414.3 L1417.2 416.6 L1420.5 418.9 L1423.8 421.2 L1427.1 423.5 L1430.4 425.8 L1433.7 428.0 L1437.0 430.2 L1440.4 432.4 L1443.7 434.5 L1447.1 436.7 L1450.5 438.8 L1453.9 440.9 L1457.4 442.9 L1460.8 444.9 L1464.3 446.9 L1467.8 448.9 L1471.3 450.8 L1474.8 452.8 L1478.3 454.6 L1481.9 456.5 L1485.4 458.3 L1489.0 460.0 L1492.6 461.8 L1496.3 463.5 L1499.9 465.2 L1503.5 466.8 L1507.2 468.4 L1510.9 470.0 L1514.6 471.5 L1518.3 473.0 L1522.0 474.5 L1525.7 476.0 L1529.5 477.4 L1533.2 478.8 L1537.0 480.1 L1540.7 481.4 L1544.5 482.7 L1548.3 484.0 L1552.1 485.3 L1555.9 486.5 L1559.8 487.6 L1563.6 488.8 L1567.4 489.9 L1571.3 491.0 L1575.1 492.1 L1579.0 493.2 L1582.9 494.2 L1586.7 495.2 L1590.6 496.1 L1594.5 497.1 L1598.4 498.0 L1602.3 498.9 L1606.2 499.8 L1610.1 500.6 L1614.0 501.4 L1617.9 502.2 L1621.9 503.0 L1625.8 503.7 L1629.7 504.5 L1633.7 505.2 L1637.6 505.9 L1641.6 506.5 L1645.5 507.1 L1649.5 507.8 L1653.4 508.4 L1657.4 508.9 L1661.3 509.5 L1665.3 510.0 L1669.3 510.5 L1673.2 511.0 L1677.2 511.5 L1681.2 511.9 L1685.2 512.3 L1689.1 512.8 L1693.1 513.1 L1697.1 513.5 L1701.1 513.9 L1705.1 514.2 L1709.1 514.5 L1713.0 514.8 L1717.0 515.1 L1721.0 515.3 L1725.0 515.6 L1729.0 515.8 L1733.0 516.0 L1737.0 516.2 L1741.0 516.3 L1745.0 516.5 L1749.0 516.6 L1753.0 516.8 L1757.0 516.9 L1761.0 516.9 L1765.0 517.0 L1763.8 520.8 L1761.8 524.3 L1759.1 527.2 L1755.8 529.5 L1752.2 531.3 L1748.5 532.7 L1744.6 533.8 L1740.7 534.6 L1736.8 535.3 L1732.8 535.9 L1728.9 536.5 L1724.9 537.0 L1720.9 537.6 L1716.9 538.1 L1713.0 538.6 L1709.0 539.0 L1705.0 539.5 L1701.0 540.0 L1697.0 540.4 L1693.1 540.8 L1689.1 541.3 L1685.1 541.7 L1681.1 542.0 L1677.1 542.4 L1673.1 542.8 L1669.1 543.1 L1665.1 543.5 L1661.1 543.8 L1657.2 544.1 L1653.2 544.4 L1649.2 544.7 L1645.2 544.9 L1641.2 545.2 L1637.2 545.4 L1633.2 545.7 L1629.2 545.9 L1625.2 546.1 L1621.2 546.3 L1617.2 546.5 L1613.2 546.6 L1609.2 546.8 L1605.2 546.9 L1601.2 547.1 L1597.1 547.2 L1593.1 547.3 L1589.1 547.4 L1585.1 547.5 L1581.1 547.5 L1577.1 547.6 L1573.1 547.6 L1569.1 547.7 L1565.1 547.7 L1561.1 547.7 L1557.1 547.7 L1553.1 547.7 L1549.1 547.7 L1545.1 547.7 L1541.1 547.7 L1537.1 547.7 L1533.1 547.6 L1529.1 547.6 L1525.0 547.5 L1521.0 547.5 L1517.0 547.4 L1513.0 547.4 L1509.0 547.4 L1505.0 547.3 L1501.0 547.3 L1497.0 547.2 L1493.0 547.2 L1489.0 547.1 L1485.0 547.1 L1481.0 547.1 L1477.0 547.0 L1473.0 547.0 L1469.0 547.0 L1465.0 547.0 L1461.0 547.0 L1456.9 547.0 L1452.9 547.1 L1448.9 547.1 L1444.9 547.1 L1440.9 547.2 L1436.9 547.3 L1432.9 547.4 L1428.9 547.5 L1424.9 547.6 L1420.9 547.8 L1416.9 547.9 L1412.9 548.1 L1408.9 548.3 L1404.9 548.5 L1400.9 548.8 L1396.9 549.0 L1392.9 549.3 L1388.9 549.6 L1384.9 550.0 L1380.9 550.3 L1376.9 550.7 L1373.0 551.1 L1369.0 551.6 L1365.0 552.1 L1361.0 552.6 L1357.1 553.1 L1353.1 553.7 L1349.1 554.3 L1345.2 554.9 L1341.2 555.6 L1337.3 556.3 L1333.4 557.1 L1329.4 557.9 L1325.5 558.7 L1321.6 559.6 L1317.7 560.5 L1313.8 561.5 L1309.9 562.5 L1306.1 563.5 L1302.2 564.6 L1298.4 565.7 L1294.5 566.9 L1290.7 568.1 L1286.9 569.4 L1283.1 570.7 L1279.4 572.1 L1275.6 573.5 L1271.9 575.0 L1268.2 576.5 L1264.5 578.0 L1260.8 579.6 L1257.1 581.2 L1253.5 582.9 L1249.9 584.6 L1246.3 586.3 L1242.7 588.1 L1239.1 589.9 L1235.5 591.7 L1232.0 593.6 L1228.4 595.5 L1224.9 597.4 L1221.4 599.3 L1217.9 601.3 L1214.4 603.3 L1211.0 605.3 L1207.5 607.3 L1204.1 609.4 L1200.7 611.4 L1197.2 613.5 L1193.8 615.6 L1190.4 617.7 L1187.0 619.8 L1183.6 622.0 L1180.3 624.1 L1176.9 626.3 L1173.5 628.5 L1170.2 630.7 L1166.8 632.9 L1163.5 635.1 L1160.1 637.3 L1156.8 639.5 L1153.5 641.7 L1150.1 643.9 L1146.8 646.2 L1143.5 648.4 L1140.1 650.6 L1136.8 652.8 L1133.5 655.1 L1130.1 657.3 L1126.8 659.5 L1123.5 661.7 L1120.1 663.9 L1116.8 666.1 L1113.4 668.3 L1110.1 670.5 L1106.7 672.7 L1103.4 674.9 L1100.0 677.1 L1096.6 679.2 L1093.2 681.4 L1089.8 683.5 L1086.4 685.6 L1083.0 687.7 L1079.6 689.8 L1076.2 691.9 L1072.8 694.0 L1069.4 696.1 L1065.9 698.2 L1062.5 700.2 L1059.1 702.3 L1055.6 704.3 L1052.1 706.3 L1048.7 708.3 L1045.2 710.3 L1041.7 712.3 L1038.2 714.3 L1034.8 716.2 L1031.3 718.2 L1027.8 720.1 L1024.2 722.1 L1020.7 724.0 L1017.2 725.9 L1013.7 727.8 L1010.1 729.7 L1006.6 731.5 L1003.0 733.4 L999.5 735.3 L995.9 737.1 L992.4 738.9 L988.8 740.7 L985.2 742.5 L981.6 744.3 L978.0 746.1 L974.4 747.8 L970.8 749.6 L967.2 751.3 L963.6 753.0 L960.0 754.7 L956.3 756.4 L952.7 758.1 L949.1 759.8 L945.4 761.5 L941.8 763.2 L938.2 764.9 L934.5 766.5 L930.9 768.2 L927.3 770.0 L923.7 771.7 L920.1 773.4 L916.5 775.2 L912.9 777.0 L909.3 778.8 L905.8 780.7 L902.2 782.6 L898.7 784.5 L895.2 786.5 L891.8 788.5 L888.3 790.5 L884.9 792.6 L881.5 794.7 L878.1 796.9 L874.8 799.0 L871.4 801.2 L868.1 803.5 L864.8 805.8 L861.5 808.1 L858.3 810.4 L855.0 812.7 L851.8 815.1 L848.6 817.5 L845.4 819.9 L842.2 822.4 L839.1 824.8 L835.9 827.3 L832.8 829.8 L829.7 832.4 L826.6 834.9 L823.5 837.4 L820.4 840.0 L817.4 842.6 L814.3 845.2 L811.3 847.8 L808.2 850.4 L805.2 853.1 L802.2 855.7 L799.2 858.4 L796.2 861.0 L793.2 863.7 L790.3 866.4 L787.3 869.1 L784.3 871.7 L781.3 874.4 L778.4 877.1 L775.4 879.8 L772.5 882.5 L769.5 885.2 L766.5 887.9 L763.6 890.6 L760.6 893.3 L757.7 896.0 L754.7 898.7 L751.7 901.4 L748.8 904.1 L745.8 906.8 L742.8 909.5 L739.8 912.2 L736.8 914.8 L733.8 917.5 L730.8 920.1 L727.8 922.8 L724.8 925.4 L721.8 928.0 L718.7 930.6 L715.7 933.2 L712.6 935.8 L709.5 938.4 L706.4 940.9 L703.3 943.4 L700.2 946.0 L697.1 948.4 L693.9 950.9 L690.8 953.4 L687.6 955.8 L684.4 958.2 L681.2 960.6 L677.9 963.0 L674.7 965.3 L671.4 967.6 L668.1 969.9 L664.8 972.2 L661.5 974.4 L658.1 976.6 L654.7 978.7 L651.3 980.8 L647.9 982.9 L644.5 985.0 L641.0 987.0 L637.5 989.0 L634.0 990.9 L630.5 992.8 L627.0 994.7 L623.4 996.5 L619.8 998.3 L616.2 1000.1 L612.6 1001.8 L609.0 1003.5 L605.4 1005.2 L601.7 1006.8 L598.0 1008.5 L594.4 1010.1 L590.7 1011.6 L587.0 1013.2 L583.3 1014.7 L579.6 1016.2 L575.8 1017.7 L572.1 1019.2 L568.4 1020.6 L564.7 1022.1 L560.9 1023.5 L557.2 1024.9 L553.4 1026.3 L549.7 1027.7 L545.9 1029.1 L542.1 1030.5 L538.4 1031.9 L534.6 1033.2 L530.8 1034.6 L527.1 1036.0 L523.3 1037.3 L519.5 1038.7 L515.8 1040.0 L512.0 1041.4 L508.2 1042.8 L504.5 1044.2 L500.7 1045.5 L497.0 1046.9 L493.2 1048.3 L489.5 1049.7 L485.7 1051.2 L482.0 1052.6 L478.2 1054.1 L474.5 1055.5 L470.8 1057.0 L467.1 1058.5 L463.4 1060.0 L459.7 1061.6 L456.0 1063.1 L452.3 1064.7 L448.7 1066.3 L445.0 1068.0" stroke="#1a1ad4"/>
</g>
<g stroke="#000" stroke-width="9">
<line x1="311.0" y1="230.0" x2="340.0" y2="230.0"/>
<line x1="311.0" y1="390.0" x2="340.0" y2="390.0"/>
<line x1="311.0" y1="550.0" x2="340.0" y2="550.0"/>
<line x1="311.0" y1="710.0" x2="340.0" y2="710.0"/>
<line x1="311.0" y1="870.0" x2="340.0" y2="870.0"/>
<line x1="311.0" y1="1030.0" x2="340.0" y2="1030.0"/>
<line x1="311.0" y1="1190.0" x2="340.0" y2="1190.0"/>
<line x1="311.0" y1="150.0" x2="328.0" y2="150.0"/>
<line x1="311.0" y1="310.0" x2="328.0" y2="310.0"/>
<line x1="311.0" y1="470.0" x2="328.0" y2="470.0"/>
<line x1="311.0" y1="630.0" x2="328.0" y2="630.0"/>
<line x1="311.0" y1="790.0" x2="328.0" y2="790.0"/>
<line x1="311.0" y1="950.0" x2="328.0" y2="950.0"/>
<line x1="311.0" y1="1110.0" x2="328.0" y2="1110.0"/>
<line x1="574.9" y1="1247.0" x2="574.9" y2="1217.0"/>
<line x1="838.7" y1="1247.0" x2="838.7" y2="1217.0"/>
<line x1="1102.5" y1="1247.0" x2="1102.5" y2="1217.0"/>
<line x1="1366.3" y1="1247.0" x2="1366.3" y2="1217.0"/>
<line x1="1630.1" y1="1247.0" x2="1630.1" y2="1217.0"/>
<line x1="443.0" y1="1247.0" x2="443.0" y2="1228.0"/>
<line x1="706.8" y1="1247.0" x2="706.8" y2="1228.0"/>
<line x1="970.6" y1="1247.0" x2="970.6" y2="1228.0"/>
<line x1="1234.4" y1="1247.0" x2="1234.4" y2="1228.0"/>
<line x1="1498.2" y1="1247.0" x2="1498.2" y2="1228.0"/>
<line x1="1762.0" y1="1247.0" x2="1762.0" y2="1228.0"/>
</g>
<rect x="311" y="71.5" width="1583" height="1175.5" fill="none" stroke="#000" stroke-width="9"/>
<g class="serif" font-size="60">
<text x="282" y="85.0" text-anchor="end">0.9</text>
<text x="282" y="245.0" text-anchor="end">0.6</text>
<text x="282" y="405.0" text-anchor="end">0.3</text>
<text x="282" y="565.0" text-anchor="end">0.0</text>
<text x="282" y="725.0" text-anchor="end">-0.3</text>
<text x="282" y="885.0" text-anchor="end">-0.6</text>
<text x="282" y="1045.0" text-anchor="end">-0.9</text>
<text x="282" y="1205.0" text-anchor="end">-1.2</text>
<text x="311.1" y="1316.0" text-anchor="middle">-3</text>
<text x="574.9" y="1316.0" text-anchor="middle">-2</text>
<text x="838.7" y="1316.0" text-anchor="middle">-1</text>
<text x="1102.5" y="1316.0" text-anchor="middle">0</text>
<text x="1366.3" y="1316.0" text-anchor="middle">1</text>
<text x="1630.1" y="1316.0" text-anchor="middle">2</text>
<text x="1893.9" y="1316.0" text-anchor="middle">3</text>
</g>
<g class="serif" font-size="58">
<line x1="1500" y1="711.0" x2="1634" y2="711.0" stroke="#000" stroke-width="9"/>
<text x="1647" y="730.0">0.05V/s</text>
<line x1="1500" y1="786.0" x2="1634" y2="786.0" stroke="#e22a2a" stroke-width="9"/>
<text x="1647" y="804.5">0.10V/s</text>
<line x1="1500" y1="864.0" x2="1634" y2="864.0" stroke="#1a1ad4" stroke-width="9"/>
<text x="1647" y="880.5">0.15V/s</text>
</g>
<text x="398" y="162" font-family="Liberation Sans, Arial, sans-serif" font-size="63" fill="#333">(c)</text>
<text class="serif" x="1100.5" y="1446" font-size="92" text-anchor="middle" textLength="444" lengthAdjust="spacing">Voltage (V)</text>
<text class="serif" transform="translate(116,665.5) rotate(-90)" font-size="92" text-anchor="middle">Current density (mA/<tspan dx="-3">cm</tspan><tspan dx="-3" dy="-27">2</tspan><tspan dy="27">)</tspan></text>
</svg>
</body></html>
